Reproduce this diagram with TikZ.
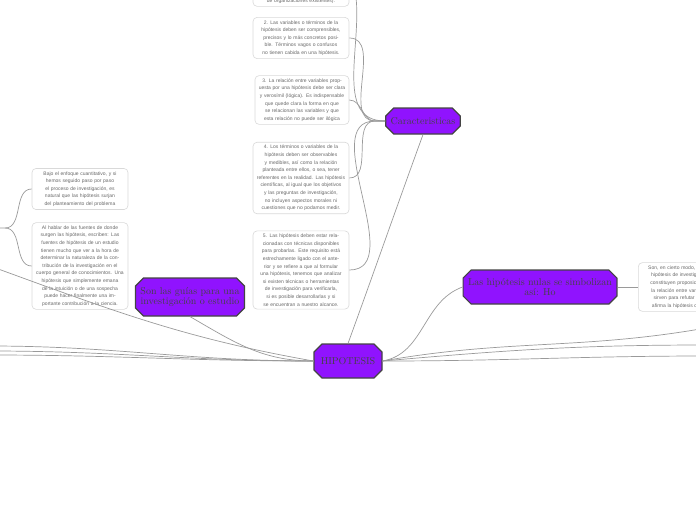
\documentclass[tikz,border=0pt]{standalone}
\usepackage{fontspec}
\newfontfamily\boxfont{Liberation Sans}
\usetikzlibrary{shapes.misc}
\definecolor{topicfill}{HTML}{9013FE}
\definecolor{edgegray}{HTML}{9A9A9A}
\definecolor{txtgray}{HTML}{444444}
\tikzset{
  topic/.style={chamfered rectangle, chamfered rectangle xsep=3pt, chamfered rectangle ysep=5pt, fill=topicfill, draw=txtgray, line width=1.2pt, inner sep=2pt, align=center, text=txtgray, font=\fontsize{10}{9.5}\selectfont},
  note/.style={rectangle, rounded corners=4pt, draw=black!15, fill=white, line width=0.6pt, inner sep=3pt, align=center, text=txtgray!80, font=\boxfont\fontsize{5}{7.6}\selectfont},
  link/.style={draw=edgegray, line width=0.7pt}
}
\begin{document}
\begin{tikzpicture}[x=1pt,y=1pt]
\useasboundingbox (0,0) rectangle (696,-520);
% central topic and branches
\node (hipo) [topic, minimum width=68pt, minimum height=34pt] at (348,-361) {HIPOTESIS};
\node (carac) [topic, minimum width=72pt, minimum height=26pt] at (423,-121) {Caracteristicas};
\node (guias) [topic, minimum width=104pt, minimum height=38pt] at (190,-297) {Son las guías para una\\investigación o estudio};
\node (nulas) [topic, minimum width=144pt, minimum height=34pt] at (540,-287) {Las hipótesis nulas se simbolizan\\así: Ho};
% notes of Caracteristicas
\node (c1) [note, text width=90pt] at (301,-1) {de organizaciones existentes).};
\node (c2) [note, text width=90pt] at (301,-38) {2. Las variables o términos de la hipótesis deben ser comprensibles, precisos y lo más concretos posible. Términos vagos o confusos no tienen cabida en una hipótesis.};
\node (c3) [note, text width=88pt] at (302,-100) {3. La relación entre variables propuesta por una hipótesis debe ser clara y verosímil (lógica). Es indispensable que quede clara la forma en que se relacionan las variables y que esta relación no puede ser ilógica};
\node (c4) [note, text width=90pt] at (301,-178) {4. Los términos o variables de la hipótesis deben ser observables y medibles, así como la relación planteada entre ellos, o sea, tener referentes en la realidad. Las hipótesis científicas, al igual que los objetivos y las preguntas de investigación, no incluyen aspectos morales ni cuestiones que no podamos medir.};
\node (c5) [note, text width=90pt] at (301,-270) {5. Las hipótesis deben estar relacionadas con técnicas disponibles para probarlas. Este requisito está estrechamente ligado con el anterior y se refiere a que al formular una hipótesis, tenemos que analizar si existen técnicas o herramientas de investigación para verificarla, si es posible desarrollarlas y si se encuentran a nuestro alcance.};
% notes on the left
\node (l1) [note, text width=90pt] at (80,-189) {Bajo el enfoque cuantitativo, y si hemos seguido paso por paso el proceso de investigación, es natural que las hipótesis surjan del planteamiento del problema};
\node (l2) [note, text width=90pt] at (80,-266) {Al hablar de las fuentes de donde surgen las hipótesis, escriben: Las fuentes de hipótesis de un estudio tienen mucho que ver a la hora de determinar la naturaleza de la contribución de la investigación en el cuerpo general de conocimientos. Una hipótesis que simplemente emana de la intuición o de una sospecha puede hacer finalmente una importante contribución a la ciencia.};
% note on the right
\node (r1) [note, text width=100pt, anchor=west] at (638,-287) {Son, en cierto modo, el reverso de las hipótesis de investigación. También constituyen proposiciones acerca de la relación entre variables, sólo que sirven para refutar o negar lo que afirma la hipótesis de investigación};
% free ends outside the picture
\coordinate (fl1) at (-10,-346);
\coordinate (fl2) at (-10,-351);
\coordinate (fl3) at (-10,-355);
\coordinate (fl4) at (-10,-266);
\coordinate (fl5) at (-10,-228);
\coordinate (fr1) at (706,-328);
\coordinate (fr2) at (706,-345);
\coordinate (fr3) at (706,-356);
\coordinate (ft) at (355,10);
% connectors
\draw [link] (hipo.north) to [out=70, in=250] (carac.south);
\draw [link] (hipo.west) to [out=180, in=-30] (guias.south);
\draw [link] (hipo.east) to [out=10, in=200] (nulas.west);
\draw [link] (nulas.east) -- (r1.west);
\draw [link] (hipo.west) to [out=180, in=0] (fl1);
\draw [link] (hipo.west) to [out=180, in=0] (fl2);
\draw [link] (hipo.west) to [out=180, in=0] (fl3);
\draw [link] (hipo.west) to [out=170, in=-20] (fl4);
\draw [link] (hipo.east) to [out=10, in=190] (fr1);
\draw [link] (hipo.east) to [out=5, in=180] (fr2);
\draw [link] (hipo.east) to [out=0, in=180] (fr3);
\draw [link] (carac.west) to [out=180, in=-80] (ft);
\foreach \n in {c2,c3,c4,c5}
  \draw [link] (carac.west) -- ++(-10,0) to [out=180, in=0] (\n.east);
\draw [link] (fl5) -- (5,-228) to [out=0, in=180] (l1.west);
\draw [link] (5,-228) to [out=0, in=180] (l2.west);
\end{tikzpicture}
\end{document}
